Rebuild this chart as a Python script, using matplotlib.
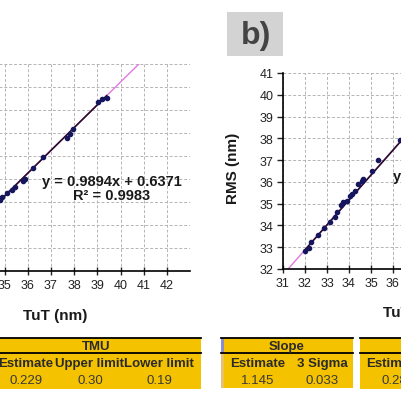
import matplotlib
matplotlib.use("Agg")
import matplotlib.pyplot as plt
from matplotlib.patches import Rectangle
import numpy as np

plt.rcParams['font.family'] = ['Liberation Sans', 'DejaVu Sans']

# ---------------- data ----------------
a_x = [34.78, 34.87, 35.09, 35.30, 35.43, 35.78, 35.86, 36.21, 36.64,
       37.67, 37.80, 37.93, 39.05, 39.22, 39.40]
a_y = [35.10, 35.20, 35.38, 35.51, 35.64, 35.90, 35.99, 36.47, 36.94,
       37.77, 37.94, 38.16, 39.33, 39.47, 39.51]
a_slope, a_icpt = 0.9894, 0.6371
a_eq = "y = 0.9894x + 0.6371"
a_r2 = "R² = 0.9983"

b_x = [32.00, 32.18, 32.27, 32.59, 32.86, 33.14, 33.36, 33.45, 33.64, 33.73,
       33.91, 34.05, 34.14, 34.27, 34.41, 34.59, 34.64, 35.05, 35.32, 36.32]
b_y = [32.83, 32.97, 33.25, 33.57, 33.89, 34.17, 34.39, 34.62, 34.94, 35.08,
       35.13, 35.36, 35.45, 35.59, 35.91, 36.05, 36.14, 36.50, 37.01, 37.93]
b_slope, b_icpt = 1.145, -3.76
b_eq = "y = 1.145x - 3.76"

x_ticks = list(range(31, 43))
y_ticks = list(range(32, 42))
x_label = "TuT (nm)"
b_ylabel = "RMS (nm)"
panel_tag = "b)"

tmu_title = "TMU"
tmu_cols = ["Estimate", "Upper limit", "Lower limit"]
tmu_vals = ["0.229", "0.30", "0.19"]
slope_title = "Slope"
slope_cols = ["Estimate", "3 Sigma"]
slope_vals = ["1.145", "0.033"]
third_cols = ["Estimate"]
third_vals = ["0.28"]

W = H = 402
fig = plt.figure(figsize=(4.02, 4.02), dpi=100)


def px_axes(x0, y0, x1, y1):
    return fig.add_axes([x0 / W, 1 - y1 / H, (x1 - x0) / W, (y1 - y0) / H])


GOLD = '#F5C200'
NAVY = '#16165E'
PINK = '#E07ADF'
DARK = '#2A0A2A'
GRID = '#B4B4B4'


def style(ax):
    ax.set_xlim(31, 43)
    ax.set_ylim(32, 41)
    ax.set_xticks(x_ticks)
    ax.set_yticks(y_ticks)
    ax.grid(True, color=GRID, linestyle=(0, (3, 2)), linewidth=0.7)
    for s in ['top', 'right']:
        ax.spines[s].set_visible(False)
    ax.spines['bottom'].set_linewidth(1.2)
    ax.spines['left'].set_linewidth(1.2)
    ax.tick_params(axis='x', direction='inout', length=6, width=1,
                   labelsize=9, pad=3, colors='#222222')
    ax.tick_params(axis='y', direction='out', length=4, width=1,
                   labelsize=9, pad=3, colors='#222222')
    ax.set_axisbelow(True)


# ---------------- panel a ----------------
axa = px_axes(-88, 65, 190, 272)
style(axa)
xx = np.array([31, 43])
axa.plot(xx, a_slope * xx + a_icpt, color=PINK, lw=1.0, zorder=2)
xd = np.array([min(a_x), max(a_x)])
axa.plot(xd, a_slope * xd + a_icpt, color=DARK, lw=1.2, zorder=3)
axa.plot(a_x, a_y, 'o', color=NAVY, ms=3.0, zorder=4)
axa.text((112 + 88) / 278, (272 - 189) / 207, a_eq + "\n" + a_r2,
         transform=axa.transAxes, ha='center', va='center', fontsize=10.5,
         fontweight='bold', color='#1a1a1a', linespacing=1.0, zorder=5)
axa.set_xlabel(x_label, fontsize=11, fontweight='bold', color='#1a1a1a')
axa.xaxis.set_label_coords(0.514, -0.2126)
axa.xaxis.label.set_va('center')

# ---------------- panel b ----------------
axb = px_axes(283, 74, 547, 270)
style(axb)
axb.plot(xx, b_slope * xx + b_icpt, color=PINK, lw=1.0, zorder=2)
xd = np.array([min(b_x), max(b_x)])
axb.plot(xd, b_slope * xd + b_icpt, color=DARK, lw=1.2, zorder=3)
axb.plot(b_x, b_y, 'o', color=NAVY, ms=3.0, zorder=4)
axb.text((393 - 283) / 264, (270 - 177) / 196, b_eq, transform=axb.transAxes,
         ha='left', va='center', fontsize=10.5, fontweight='bold',
         color='#1a1a1a', zorder=5)
axb.set_xlabel(x_label, fontsize=11, fontweight='bold', color='#1a1a1a')
axb.xaxis.set_label_coords(0.5, -0.219)
axb.xaxis.label.set_va('center')
axb.set_ylabel(b_ylabel, fontsize=11, fontweight='bold', color='#1a1a1a')
axb.yaxis.set_label_coords(-0.189, 0.52)
axb.yaxis.label.set_va('center')

# ---------------- overlay (tag + tables) ----------------
ov = fig.add_axes([0, 0, 1, 1])
ov.set_xlim(0, W)
ov.set_ylim(H, 0)
ov.axis('off')

ov.add_patch(Rectangle((227, 13), 56, 44, color='#D3D3D3', lw=0))
ov.text(256, 36, panel_tag, ha='center', va='center', fontsize=23,
        fontweight='bold', color='#444444')


def table(x0, x1, y0, y1, title, cols, vals, col_x):
    ov.add_patch(Rectangle((x0, y0), x1 - x0, y1 - y0, color=GOLD, lw=0))
    ov.plot([x0, x1], [y0, y0], color='black', lw=1.3)
    ov.plot([x0, x1], [354, 354], color='black', lw=1.3)
    if title:
        ov.text((x0 + x1) / 2, 347, title, ha='center', va='center',
                fontsize=9.5, fontweight='bold', color='#2a2a2a')
    for c, v, cx in zip(cols, vals, col_x):
        ov.text(cx, 364, c, ha='center', va='center', fontsize=9.5,
                fontweight='bold', color='#2a2a2a')
        ov.text(cx, 381, v, ha='center', va='center', fontsize=9.5,
                color='#3a3a3a')


table(-9, 201, 339, 390, tmu_title, tmu_cols, tmu_vals, [26, 90, 159])
table(221, 353, 339, 389, slope_title, slope_cols, slope_vals, [258, 322])
ov.add_patch(Rectangle((221, 339), 3, 15, color='#8C8CD0', lw=0))
ov.add_patch(Rectangle((221, 354), 3, 35, color='#E8C070', lw=0))
table(360, 440, 339, 390, "", third_cols, third_vals, [394])

fig.savefig("out.png", dpi=100)
